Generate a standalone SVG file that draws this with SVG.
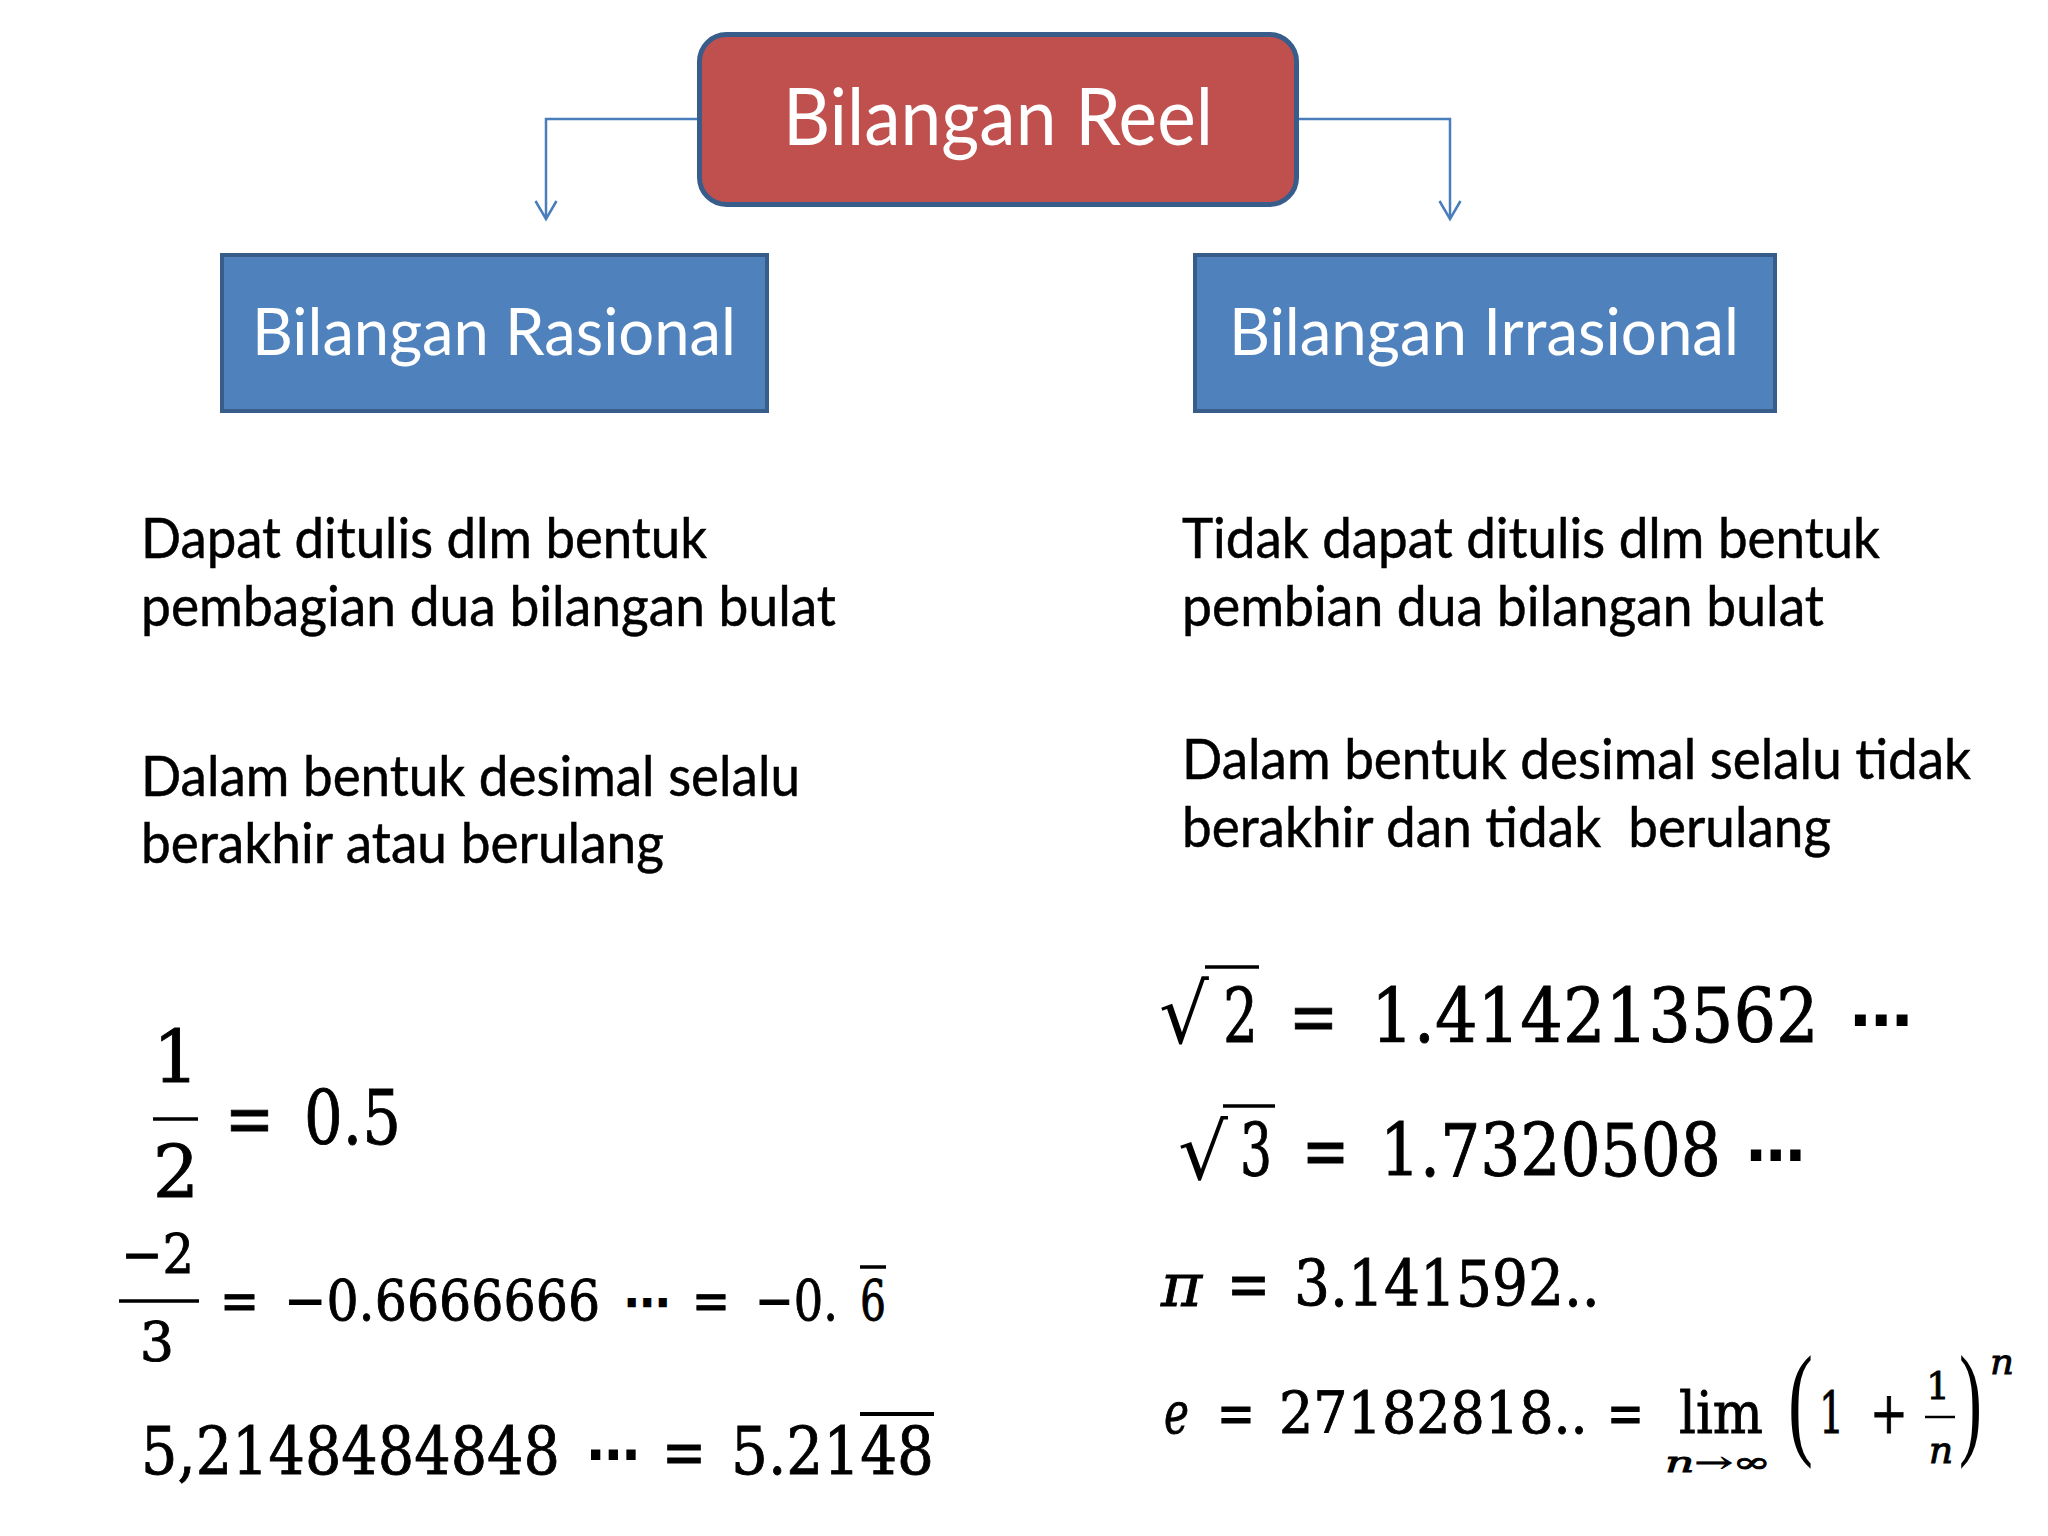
<svg xmlns="http://www.w3.org/2000/svg" width="2048" height="1536" viewBox="0 0 2048 1536">
<style>
.sans{font-family:Lato,"Liberation Sans",sans-serif;}
.lbl{fill:#ffffff;}
.body{fill:#000000;font-size:56px;stroke:#000000;stroke-width:0.5;}
.m{font-family:"DejaVu Serif","Liberation Serif",serif;fill:#000000;stroke:#000000;stroke-width:0.9;}
.mi{font-family:"DejaVu Serif","Liberation Serif",serif;font-style:italic;fill:#000000;stroke:#000000;stroke-width:0.9;}
.p{font-family:"Liberation Serif","DejaVu Serif",serif;fill:#000000;}
.sym{font-family:"DejaVu Sans",sans-serif;fill:#000000;}
.dots{font-family:"DejaVu Sans",sans-serif;font-weight:bold;fill:#000000;}
.conn{fill:none;stroke:#4A7EBB;stroke-width:2.5;}
.bar{stroke:#000000;stroke-width:3.5;}
</style>
<defs>
<marker id="arr" markerUnits="userSpaceOnUse" markerWidth="40" markerHeight="40" viewBox="-30 -20 40 40" refX="0" refY="0" orient="auto" overflow="visible">
<path d="M-18,-10.5 L0,0 L-18,10.5" fill="none" stroke="#4A7EBB" stroke-width="2.5"/>
</marker>
</defs>
<rect width="2048" height="1536" fill="#ffffff"/>

<g id="connectors">
<path class="conn" d="M700,119 H546 V219" marker-end="url(#arr)"/>
<path class="conn" d="M1297,119 H1450 V219" marker-end="url(#arr)"/>
</g>

<g id="node-reel">
<rect x="699.5" y="34.5" width="597" height="170" rx="27" fill="#C0504D" stroke="#385D8A" stroke-width="5"/>
<text class="sans lbl" x="783" y="145" font-size="80" textLength="430" lengthAdjust="spacingAndGlyphs">Bilangan Reel</text>
</g>

<g id="node-rasional">
<rect x="222" y="255" width="545" height="156" fill="#4F81BD" stroke="#385D8A" stroke-width="4"/>
<text class="sans lbl" x="252" y="355" font-size="66" textLength="484" lengthAdjust="spacingAndGlyphs">Bilangan Rasional</text>
</g>

<g id="node-irrasional">
<rect x="1195" y="255" width="580" height="156" fill="#4F81BD" stroke="#385D8A" stroke-width="4"/>
<text class="sans lbl" x="1229" y="355" font-size="66" textLength="510" lengthAdjust="spacingAndGlyphs">Bilangan Irrasional</text>
</g>

<g id="text-rasional">
<text class="sans body" x="141" y="558" textLength="566" lengthAdjust="spacingAndGlyphs">Dapat ditulis dlm bentuk</text>
<text class="sans body" x="141" y="626" textLength="695" lengthAdjust="spacingAndGlyphs">pembagian dua bilangan bulat</text>
<text class="sans body" x="141" y="796" textLength="659" lengthAdjust="spacingAndGlyphs">Dalam bentuk desimal selalu</text>
<text class="sans body" x="141" y="863" textLength="523" lengthAdjust="spacingAndGlyphs">berakhir atau berulang</text>
</g>

<g id="text-irrasional">
<text class="sans body" x="1182" y="558" textLength="698" lengthAdjust="spacingAndGlyphs">Tidak dapat ditulis dlm bentuk</text>
<text class="sans body" x="1182" y="626" textLength="642" lengthAdjust="spacingAndGlyphs">pembian dua bilangan bulat</text>
<text class="sans body" x="1182" y="779" textLength="789" lengthAdjust="spacingAndGlyphs">Dalam bentuk desimal selalu tidak</text>
<text class="sans body" x="1182" y="847" textLength="649" lengthAdjust="spacingAndGlyphs" style="white-space:pre">berakhir dan tidak  berulang</text>
</g>

<g id="math-rasional">
<text class="m" x="176" y="1083" font-size="73" text-anchor="middle">1</text>
<line class="bar" x1="153" y1="1119" x2="198" y2="1119"/>
<text class="m" x="176" y="1198" font-size="73" text-anchor="middle">2</text>
<text class="m" transform="translate(225,1144) scale(0.79,1)" font-size="74" textLength="62" lengthAdjust="spacingAndGlyphs">=</text>
<text class="m" transform="translate(304,1144) scale(0.824,1)" font-size="74" textLength="117.7" lengthAdjust="spacingAndGlyphs">0.5</text>

<text class="m" transform="translate(121,1273) scale(0.917,1)" font-size="54" textLength="79.6" lengthAdjust="spacingAndGlyphs">−2</text>
<line class="bar" x1="119" y1="1301" x2="199" y2="1301"/>
<text class="m" x="157" y="1361" font-size="54" text-anchor="middle">3</text>
<text class="m" transform="translate(220,1320) scale(0.832,1)" font-size="56" textLength="46.9" lengthAdjust="spacingAndGlyphs">=</text>
<text class="m" transform="translate(284,1320) scale(0.904,1)" font-size="56" textLength="349.7" lengthAdjust="spacingAndGlyphs">−0.6666666</text>
<text class="dots" transform="translate(624,1320) scale(0.92,1)" font-size="50" textLength="50" lengthAdjust="spacingAndGlyphs">⋯</text>
<text class="m" transform="translate(692,1320) scale(0.81,1)" font-size="56" textLength="46.9" lengthAdjust="spacingAndGlyphs">=</text>
<text class="m" transform="translate(755,1320) scale(0.827,1)" font-size="56" textLength="100.4" lengthAdjust="spacingAndGlyphs">−0.</text>
<text class="m" transform="translate(860,1320) scale(0.73,1)" font-size="56" textLength="35.6" lengthAdjust="spacingAndGlyphs">6</text>
<line class="bar" x1="860" y1="1267" x2="886" y2="1267"/>

<text class="m" transform="translate(141,1474) scale(0.868,1)" font-size="66" textLength="482.7" lengthAdjust="spacingAndGlyphs">5,2148484848</text>
<text class="dots" transform="translate(587,1474) scale(0.946,1)" font-size="56" textLength="56" lengthAdjust="spacingAndGlyphs">⋯</text>
<text class="m" transform="translate(662,1474) scale(0.796,1)" font-size="66" textLength="55.3" lengthAdjust="spacingAndGlyphs">=</text>
<text class="m" transform="translate(731,1474) scale(0.879,1)" font-size="66" textLength="230.9" lengthAdjust="spacingAndGlyphs">5.2148</text>
<line x1="860" y1="1414" x2="934" y2="1414" stroke="#000000" stroke-width="4"/>
</g>

<g id="math-irrasional">
<text class="sym" transform="translate(1159,1043) scale(0.96,1)" font-size="82" textLength="52" lengthAdjust="spacingAndGlyphs">√</text>
<line class="bar" x1="1205" y1="967" x2="1259" y2="967"/>
<text class="m" transform="translate(1223,1042) scale(0.743,1)" font-size="74" textLength="47.1" lengthAdjust="spacingAndGlyphs">2</text>
<text class="m" transform="translate(1289,1042) scale(0.79,1)" font-size="74" textLength="62" lengthAdjust="spacingAndGlyphs">=</text>
<text class="m" transform="translate(1371,1042) scale(0.906,1)" font-size="74" textLength="494.2" lengthAdjust="spacingAndGlyphs">1.414213562</text>
<text class="dots" x="1850" y="1042" font-size="62" textLength="62" lengthAdjust="spacingAndGlyphs">⋯</text>

<text class="sym" x="1178" y="1179" font-size="78" textLength="50" lengthAdjust="spacingAndGlyphs">√</text>
<line class="bar" x1="1223" y1="1106" x2="1275" y2="1106"/>
<text class="m" transform="translate(1240,1176) scale(0.69,1)" font-size="73" textLength="46.4" lengthAdjust="spacingAndGlyphs">3</text>
<text class="m" transform="translate(1302,1176) scale(0.768,1)" font-size="73" textLength="61.2" lengthAdjust="spacingAndGlyphs">=</text>
<text class="m" transform="translate(1380,1176) scale(0.864,1)" font-size="73" textLength="394.6" lengthAdjust="spacingAndGlyphs">1.7320508</text>
<text class="dots" x="1746" y="1176" font-size="60" textLength="59" lengthAdjust="spacingAndGlyphs">⋯</text>

<text class="mi" x="1161" y="1306" font-size="60" textLength="41" lengthAdjust="spacingAndGlyphs">π</text>
<text class="m" transform="translate(1227,1306) scale(0.814,1)" font-size="63" textLength="52.8" lengthAdjust="spacingAndGlyphs">=</text>
<text class="m" transform="translate(1294,1306) scale(0.898,1)" font-size="63" textLength="340.6" lengthAdjust="spacingAndGlyphs">3.141592..</text>

<text class="mi" transform="translate(1164,1433) scale(0.735,1)" font-size="58" textLength="34" lengthAdjust="spacingAndGlyphs">e</text>
<text class="m" transform="translate(1217,1433) scale(0.78,1)" font-size="58" textLength="48.6" lengthAdjust="spacingAndGlyphs">=</text>
<text class="m" transform="translate(1279,1433) scale(0.93,1)" font-size="58" textLength="332" lengthAdjust="spacingAndGlyphs">27182818..</text>
<text class="m" transform="translate(1607,1433) scale(0.76,1)" font-size="58" textLength="48.6" lengthAdjust="spacingAndGlyphs">=</text>
<text class="m" transform="translate(1679,1433) scale(0.912,1)" font-size="58" textLength="92.1" lengthAdjust="spacingAndGlyphs">lim</text>
<text class="m" x="1665" y="1472" font-size="28" textLength="106" lengthAdjust="spacingAndGlyphs"><tspan font-style="italic">n</tspan>→∞</text>
<text class="p" transform="translate(1788,1442) scale(0.605,1)" font-size="124" textLength="41.3" lengthAdjust="spacingAndGlyphs">(</text>
<text class="m" transform="translate(1819,1433) scale(0.68,1)" font-size="58" textLength="36.9" lengthAdjust="spacingAndGlyphs">1</text>
<text class="m" transform="translate(1870,1433) scale(0.78,1)" font-size="58" textLength="48.6" lengthAdjust="spacingAndGlyphs">+</text>
<text class="m" x="1938" y="1399" font-size="37" text-anchor="middle">1</text>
<line x1="1925" y1="1417" x2="1955" y2="1417" stroke="#000000" stroke-width="2.5"/>
<text class="mi" x="1941" y="1463" font-size="38" text-anchor="middle">n</text>
<text class="p" transform="translate(1959,1442) scale(0.557,1)" font-size="124" textLength="41.3" lengthAdjust="spacingAndGlyphs">)</text>
<text class="mi" x="1990" y="1374" font-size="36" textLength="24" lengthAdjust="spacingAndGlyphs">n</text>
</g>
</svg>
